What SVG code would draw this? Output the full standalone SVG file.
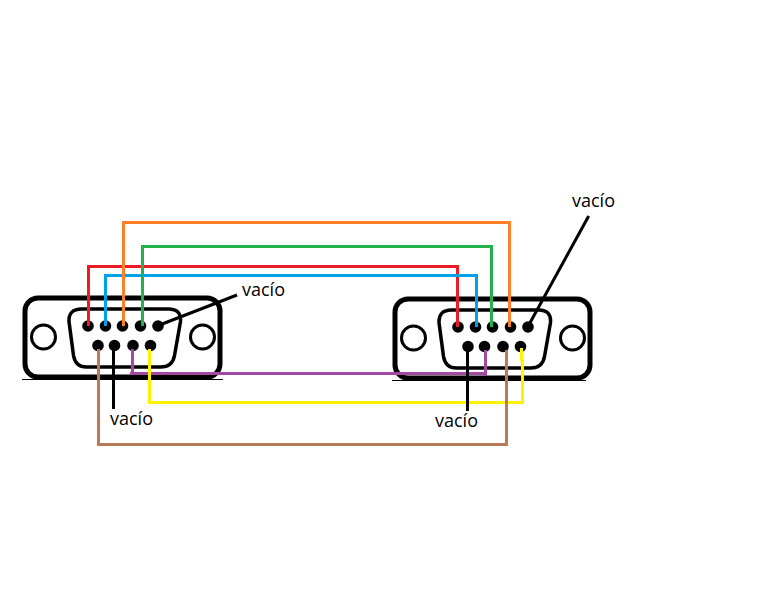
<svg xmlns="http://www.w3.org/2000/svg" width="768" height="614" viewBox="0 0 768 614">
<style>
.body,.shell,.screw{fill:#fff;stroke:#000}
.body{stroke-width:5}
.shell{stroke-width:3.500}
.screw{stroke-width:3}
.base{stroke:#000;stroke-width:1;fill:none}
.pin{fill:#000}
.w{fill:none;stroke-width:3}
.leader{fill:none;stroke:#000;stroke-width:3}
text{font-family:"Open Sans","Noto Sans",sans-serif;font-size:18px;fill:#000}
</style>
<defs>
<g id="db9">
<rect class="body" x="2.500" y="2.500" width="195" height="79" rx="13"/>
<path class="shell" d="M59 13.500H146Q159 13.500 158 26L152 60Q150 71.500 138 71.500H64Q53 71.500 51 60L46.500 26Q46 13.500 59 13.500Z"/>
<circle class="screw" cx="21" cy="41.500" r="12"/>
<circle class="screw" cx="180" cy="41.500" r="12"/>
<circle class="pin" cx="65.500" cy="30.500" r="5.800"/>
<circle class="pin" cx="83" cy="30.500" r="5.800"/>
<circle class="pin" cx="100" cy="30.500" r="5.800"/>
<circle class="pin" cx="118" cy="30.500" r="5.800"/>
<circle class="pin" cx="135.500" cy="30.500" r="5.800"/>
<circle class="pin" cx="75.500" cy="50" r="5.800"/>
<circle class="pin" cx="92" cy="50" r="5.800"/>
<circle class="pin" cx="110.500" cy="50" r="5.800"/>
<circle class="pin" cx="128" cy="50" r="5.800"/>
</g>
</defs>
<rect width="768" height="614" fill="#fff"/>
<g id="connector-left"><use href="#db9" x="22.500" y="295.500"/><path class="base" d="M22 379.500H223"/></g>
<g id="connector-right"><use href="#db9" x="392.500" y="296.500"/><path class="base" d="M392 380.500H586"/></g>
<g id="connectors">
<path class="w" stroke="#ed1c24" d="M88.500 326V266.500H457.500V327"/>
<path class="w" stroke="#00a2e8" d="M105.500 326V275.500H476.500V327"/>
<path class="w" stroke="#ff7f27" d="M123.500 326V222.500H509.500V327"/>
<path class="w" stroke="#22b14c" d="M142.500 326V246.500H491.500V327"/>
<path class="w" stroke="#a349a4" d="M132.500 349V373.500M130 373.500H485.500M485.500 376V350"/>
<path class="w" stroke="#fff200" d="M149.500 349V402.500H522.500V360H521.500V348"/>
<path class="w" stroke="#b97a57" d="M98.500 349V444.500H506.500V350"/>
<path class="leader" d="M157 326L237 295"/>
<path class="leader" d="M113.500 345V409"/>
<path class="leader" d="M527.700 327L588.700 216"/>
<path class="leader" d="M467.500 347V411"/>
</g>
<g id="label-1"><text x="242" y="296">vacío</text></g>
<g id="label-2"><text x="110" y="425">vacío</text></g>
<g id="label-3"><text x="435" y="427">vacío</text></g>
<g id="label-4"><text x="572" y="207">vacío</text></g>
</svg>
